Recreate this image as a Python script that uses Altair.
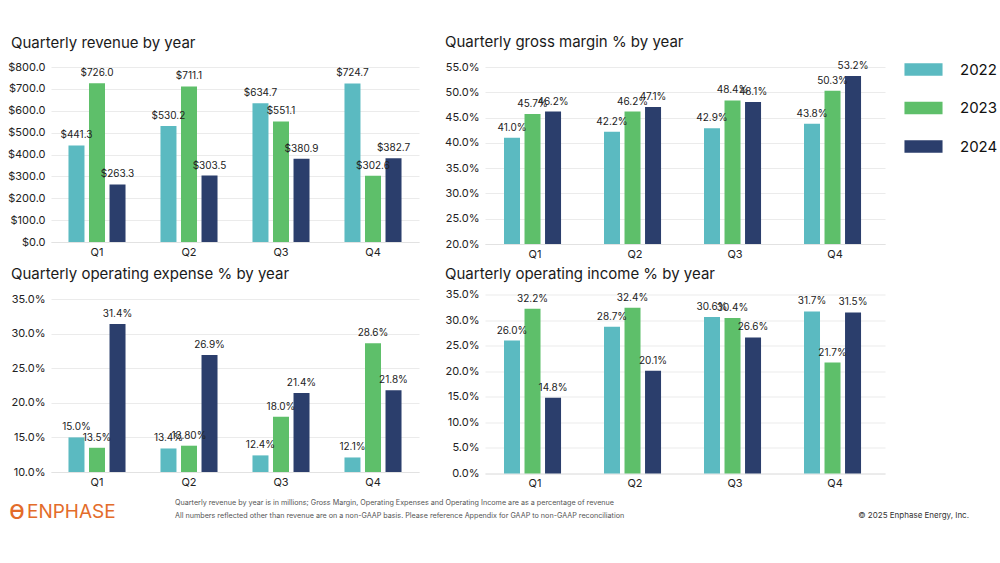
import altair as alt
import pandas as pd

quarters = ["Q1", "Q2", "Q3", "Q4"]
years = ["2022", "2023", "2024"]
colors = ["#5BBAC1", "#5EBF6A", "#2B3E6C"]

revenue_2022 = [441.3, 530.2, 634.7, 724.7]
revenue_2023 = [726.0, 711.1, 551.1, 302.6]
revenue_2024 = [263.3, 303.5, 380.9, 382.7]

gross_2022 = [41.0, 42.2, 42.9, 43.8]
gross_2023 = [45.7, 46.2, 48.4, 50.3]
gross_2024 = [46.2, 47.1, 48.1, 53.2]

opex_2022 = [15.0, 13.4, 12.4, 12.1]
opex_2023 = [13.5, 13.8, 18.0, 28.6]
opex_2024 = [31.4, 26.9, 21.4, 21.8]
opex_labels_2023 = ["13.5%", "13.80%", "18.0%", "28.6%"]

opinc_2022 = [26.0, 28.7, 30.6, 31.7]
opinc_2023 = [32.2, 32.4, 30.4, 21.7]
opinc_2024 = [14.8, 20.1, 26.6, 31.5]

rev_ticks = [0, 100, 200, 300, 400, 500, 600, 700, 800]
gross_ticks = [20, 25, 30, 35, 40, 45, 50, 55]
opex_ticks = [10, 15, 20, 25, 30, 35]
opinc_ticks = [0, 5, 10, 15, 20, 25, 30, 35]

FONT = "Inter"


def pct(v):
    return f"{v:.1f}%"


def money(v):
    return f"${v:.1f}"


def build(series, fmt, overrides=None):
    rows = []
    for y, vals in zip(years, series):
        for i, (q, v) in enumerate(zip(quarters, vals)):
            lab = fmt(v)
            if overrides and y in overrides:
                lab = overrides[y][i]
            rows.append({"quarter": q, "year": y, "value": v, "label": lab})
    return pd.DataFrame(rows)


rev_df = build([revenue_2022, revenue_2023, revenue_2024], money)
gross_df = build([gross_2022, gross_2023, gross_2024], pct)
opex_df = build([opex_2022, opex_2023, opex_2024], pct, {"2023": opex_labels_2023})
opinc_df = build([opinc_2022, opinc_2023, opinc_2024], pct)

color_enc = alt.Color(
    "year:N",
    scale=alt.Scale(domain=years, range=colors),
    legend=alt.Legend(
        orient="none", legendX=853, legendY=-17, title=None,
        symbolType="M-1,-0.33H1V0.33H-1Z", symbolSize=1450,
        symbolStrokeWidth=0, symbolOpacity=1,
        labelFontSize=15, labelFont=FONT, labelColor="#111",
        labelOffset=17, rowPadding=10.5, padding=0,
    ),
)


def panel(df, title, domain, ticks, label_expr, width, height, title_offset):
    x = alt.X(
        "quarter:N", sort=quarters,
        scale=alt.Scale(paddingInner=0.38, paddingOuter=0.19),
        axis=alt.Axis(title=None, labelAngle=0, domain=True, domainColor="#e2e2e2",
                      ticks=False, labelPadding=4, labelFontSize=11, labelColor="#222",
                      labelFont=FONT),
    )
    xo = alt.XOffset("year:N", sort=years, scale=alt.Scale(paddingInner=0.22))
    y = alt.Y(
        "value:Q",
        scale=alt.Scale(domain=domain, nice=False, zero=False),
        axis=alt.Axis(title=None, values=ticks, labelExpr=label_expr, grid=True,
                      gridColor="#ebebeb", domain=False, ticks=False, labelPadding=6,
                      labelFontSize=11, labelColor="#222", labelFont=FONT),
    )
    bars = alt.Chart(df).mark_bar().encode(
        x=x, xOffset=xo, y=y, y2=alt.datum(domain[0]), color=color_enc
    )
    labels = alt.Chart(df).mark_text(
        baseline="bottom", dy=-5, fontSize=10, font=FONT, color="#222"
    ).encode(x=x, xOffset=xo, y=y, text="label:N")
    return alt.layer(bars, labels).properties(
        width=width, height=height,
        title=alt.Title(title, frame="group", anchor="start", dx=-40,
                        offset=title_offset, fontSize=15, font=FONT,
                        fontWeight="normal", color="#1a1a1a"),
    )


pct_expr = "format(datum.value, '.1f') + '%'"
p1 = panel(rev_df, "Quarterly revenue by year", [0, 800], rev_ticks,
           "'$' + format(datum.value, '.1f')", 368, 175, 10)
p2 = panel(gross_df, "Quarterly gross margin % by year", [20, 55], gross_ticks,
           pct_expr, 400, 177, 11)
p3 = panel(opex_df, "Quarterly operating expense % by year", [10, 35], opex_ticks,
           pct_expr, 368, 173, 11.5)
p4 = panel(opinc_df, "Quarterly operating income % by year", [0, 35], opinc_ticks,
           pct_expr, 400, 179, 7)

left_col = alt.vconcat(p1, p3, spacing=9)
right_col = alt.vconcat(p2, p4, spacing=7.5)
top = alt.hconcat(left_col, right_col, spacing=25)

note1 = ["Quarterly revenue by year is in millions; Gross Margin, Operating Expenses and Operating Income are as a percentage of revenue"]
note2 = ["All numbers reflected other than revenue are on a non-GAAP basis.  Please reference Appendix for GAAP to non-GAAP reconciliation"]
copyright_txt = ["\u00a9 2025 Enphase Energy, Inc."]
logo_txt = ["ENPHASE"]
logo_icon = ["\u0275"]


def ftext(txt, x, y, size, color, align="left", weight="normal", font=FONT):
    return alt.Chart(pd.DataFrame({"t": txt})).mark_text(
        align=align, baseline="middle", fontSize=size, color=color,
        fontWeight=weight, font=font
    ).encode(text="t:N", x=alt.value(x), y=alt.value(y))


footer = alt.layer(
    ftext(logo_icon, -42, 18, 26, "#E36C2A", font="DejaVu Sans"),
    ftext(logo_txt, -24, 19, 19, "#E36C2A"),
    ftext(note1, 124, 10, 7.2, "#555"),
    ftext(note2, 124, 23, 7.2, "#555"),
    ftext(copyright_txt, 918, 23, 8, "#333", align="right"),
).properties(width=920, height=30)

chart = alt.vconcat(top, footer, spacing=4).properties(
    padding={"left": 7, "top": 35, "right": 0, "bottom": 0},
    background="white",
).configure_view(stroke=None)

chart.save("out.html", embed_options={"renderer": "svg", "actions": False})
